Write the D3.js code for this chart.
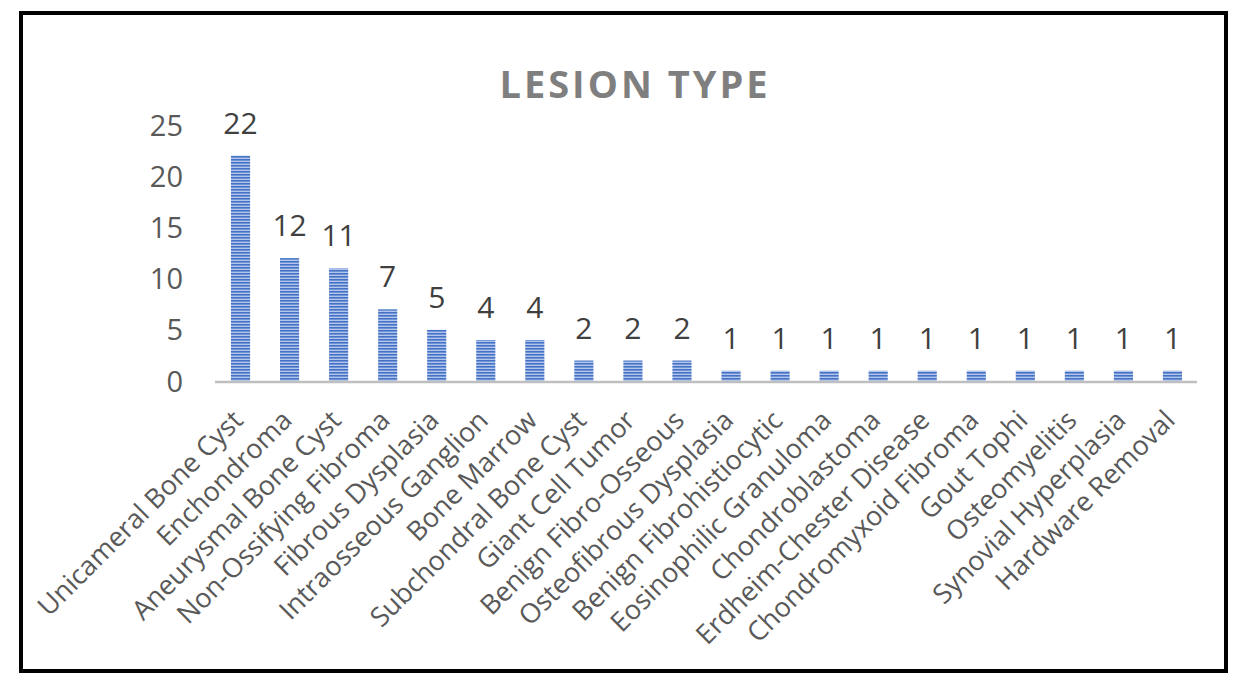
<!DOCTYPE html>
<html>
<head>
<meta charset="utf-8">
<script src="https://cdn.jsdelivr.net/npm/d3@7"></script>
<style>
  html, body { margin: 0; padding: 0; background: #ffffff; }
  svg { display: block; }
</style>
</head>
<body>
<svg id="chart" width="1246" height="688"></svg>
<script>
const title = "LESION TYPE";
const categories = [
  "Unicameral Bone Cyst", "Enchondroma", "Aneurysmal Bone Cyst", "Non-Ossifying Fibroma",
  "Fibrous Dysplasia", "Intraosseous Ganglion", "Bone Marrow", "Subchondral Bone Cyst",
  "Giant Cell Tumor", "Benign Fibro-Osseous", "Osteofibrous Dysplasia", "Benign Fibrohistiocytic",
  "Eosinophilic Granuloma", "Chondroblastoma", "Erdheim-Chester Disease", "Chondromyxoid Fibroma",
  "Gout Tophi", "Osteomyelitis", "Synovial Hyperplasia", "Hardware Removal"
];
const values = [22, 12, 11, 7, 5, 4, 4, 2, 2, 2, 1, 1, 1, 1, 1, 1, 1, 1, 1, 1];
const yTicks = [0, 5, 10, 15, 20, 25];

const svg = d3.select("#chart");
const font = "'Open Sans', 'Noto Sans', sans-serif";

// border
svg.append("rect")
  .attr("x", 21).attr("y", 13).attr("width", 1205).attr("height", 658)
  .attr("fill", "#fff").attr("stroke", "#000").attr("stroke-width", 4);

// pattern
const defs = svg.append("defs");
const pat = defs.append("pattern")
  .attr("id", "stripes").attr("patternUnits", "userSpaceOnUse")
  .attr("width", 10).attr("height", 3);
pat.append("rect").attr("width", 10).attr("height", 3).attr("fill", "#b3c5ec");
pat.append("rect").attr("width", 10).attr("height", 1.6).attr("fill", "#4472c4");

const x = d3.scaleBand().domain(categories).range([216, 1197])
  .paddingInner(0.61).paddingOuter(0.305);
const y = d3.scaleLinear().domain([0, 25]).range([381, 125]);

// title
svg.append("text")
  .attr("x", 635).attr("y", 98)
  .attr("text-anchor", "middle")
  .attr("font-family", font).attr("font-weight", "bold")
  .attr("font-size", 38).attr("letter-spacing", 3)
  .attr("fill", "#7f7f7f")
  .text(title);

// y axis labels
const yAxis = d3.axisLeft(y).tickValues(yTicks).tickSize(0).tickPadding(0);
const gy = svg.append("g").attr("transform", "translate(183,0)").call(yAxis);
gy.select(".domain").remove();
gy.selectAll("text")
  .attr("font-family", font).attr("font-size", 29).attr("fill", "#595959")
  .attr("dy", "0.35em");

// bars
svg.append("g").selectAll("rect").data(categories).join("rect")
  .attr("x", d => x(d))
  .attr("y", (d, i) => y(values[i]))
  .attr("width", x.bandwidth())
  .attr("height", (d, i) => y(0) - y(values[i]))
  .attr("fill", "url(#stripes)");

// x axis line
const xAxis = d3.axisBottom(x).tickSize(0).tickPadding(0);
const gx = svg.append("g").attr("transform", "translate(0,382)").call(xAxis);
gx.select(".domain").attr("stroke", "#bfbfbf").attr("stroke-width", 2.5)
  .attr("d", "M215,0H1197");
gx.selectAll(".tick text")
  .attr("font-family", font).attr("font-size", 27).attr("fill", "#595959")
  .attr("text-anchor", "end")
  .attr("dy", null).attr("y", null)
  .attr("transform", "translate(4,40) rotate(-45)");

// data labels
svg.append("g").selectAll("text").data(categories).join("text")
  .attr("x", d => x(d) + x.bandwidth() / 2)
  .attr("y", (d, i) => y(values[i]) - 22)
  .attr("text-anchor", "middle")
  .attr("font-family", font).attr("font-size", 30).attr("fill", "#404040")
  .text((d, i) => values[i]);
</script>
</body>
</html>
